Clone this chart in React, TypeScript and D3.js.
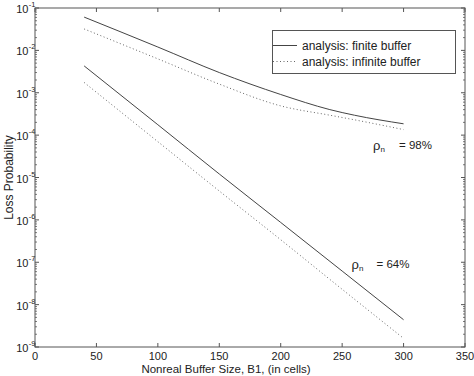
import React from "react";
import * as d3 from "d3";

const bufferFinite98 = [40, 100, 150, 200, 240, 260, 300];
const lossFinite98 = [6.1e-2, 1.2e-2, 3.0e-3, 9.1e-4, 4.0e-4, 2.95e-4, 1.85e-4];
const bufferInfinite98 = [40, 100, 150, 200, 240, 260, 300];
const lossInfinite98 = [3.2e-2, 6.3e-3, 1.6e-3, 4.9e-4, 2.95e-4, 2.3e-4, 1.35e-4];
const bufferFinite64 = [40, 100, 150, 200, 250, 300];
const lossFinite64 = [4.3e-3, 1.76e-4, 1.21e-5, 8.7e-7, 6.2e-8, 4.4e-9];
const bufferInfinite64 = [40, 100, 150, 200, 250, 300];
const lossInfinite64 = [1.75e-3, 7.0e-5, 4.8e-6, 3.4e-7, 2.3e-8, 1.6e-9];

const xTicks = [0, 50, 100, 150, 200, 250, 300, 350];
const yExponents = [-1, -2, -3, -4, -5, -6, -7, -8, -9];
const legendLabels = ["analysis: finite buffer", "analysis: infinite buffer"];
const xLabel = "Nonreal Buffer Size, B1, (in cells)";
const yLabel = "Loss Probability";

const W = 474;
const H = 376;
const L = 35, R = 465, T = 8, B = 347;
const FONT = "'Liberation Sans', Arial, Helvetica, sans-serif";
const AXIS = "#555";
const TXT = "#222";

export default function App() {
  const x = d3.scaleLinear().domain([0, 350]).range([L, R]);
  const y = d3.scaleLog().domain([1e-9, 1e-1]).range([B, T]);
  const line = d3
    .line<[number, number]>()
    .x((d) => x(d[0]))
    .y((d) => y(d[1]))
    .curve(d3.curveMonotoneX);
  const zip = (a: number[], b: number[]) => a.map((v, i) => [v, b[i]] as [number, number]);

  const minor: number[] = [];
  for (let e = -9; e < -1; e++) {
    for (let m = 2; m <= 9; m++) minor.push(m * Math.pow(10, e));
  }

  const series = [
    { d: zip(bufferFinite98, lossFinite98), dash: null },
    { d: zip(bufferInfinite98, lossInfinite98), dash: "1,2.5" },
    { d: zip(bufferFinite64, lossFinite64), dash: null },
    { d: zip(bufferInfinite64, lossInfinite64), dash: "1,2.5" },
  ];

  return (
    <svg
      width={W}
      height={H}
      style={{ position: "absolute", left: 0, top: 0, background: "#fff" }}
      fontFamily={FONT}
    >
      <rect x={0} y={0} width={W} height={H} fill="#fff" />
      {xTicks.map((t) => (
        <g key={"xt" + t}>
          <line x1={x(t)} x2={x(t)} y1={B} y2={B - 4} stroke={AXIS} strokeWidth={1} />
          <line x1={x(t)} x2={x(t)} y1={T} y2={T + 4} stroke={AXIS} strokeWidth={1} />
          <text x={x(t)} y={359.5} fontSize={11} textAnchor="middle" fill={TXT}>
            {t}
          </text>
        </g>
      ))}
      {yExponents.map((e) => {
        const yy = y(Math.pow(10, e));
        return (
          <g key={"yt" + e}>
            <line x1={L} x2={L + 4} y1={yy} y2={yy} stroke={AXIS} strokeWidth={1} />
            <line x1={R} x2={R - 4} y1={yy} y2={yy} stroke={AXIS} strokeWidth={1} />
            <text x={28.5} y={yy + 5} fontSize={11} textAnchor="end" fill={TXT}>
              10
            </text>
            <text x={28.8} y={yy - 1} fontSize={7.5} textAnchor="start" fill={TXT}>
              {"-" + Math.abs(e)}
            </text>
          </g>
        );
      })}
      {minor.map((v, i) => (
        <g key={"mn" + i}>
          <line x1={L} x2={L + 2} y1={y(v)} y2={y(v)} stroke={AXIS} strokeWidth={0.8} />
          <line x1={R} x2={R - 2} y1={y(v)} y2={y(v)} stroke={AXIS} strokeWidth={0.8} />
        </g>
      ))}
      <rect x={L} y={T} width={R - L} height={B - T} fill="none" stroke={AXIS} strokeWidth={1} />
      {series.map((s, i) => (
        <path
          key={"s" + i}
          d={line(s.d) || ""}
          fill="none"
          stroke={s.dash ? "#666" : "#444"}
          strokeWidth={1}
          strokeDasharray={s.dash || undefined}
        />
      ))}
      <rect x={272.5} y={30.5} width={183} height={43} fill="#fff" stroke={AXIS} strokeWidth={1} />
      <line x1={273} x2={297} y1={45.5} y2={45.5} stroke="#444" strokeWidth={1} />
      <line x1={273} x2={297} y1={61.5} y2={61.5} stroke="#666" strokeWidth={1} strokeDasharray="1,2.5" />
      <text x={302} y={50} fontSize={12} fill={TXT}>
        {legendLabels[0]}
      </text>
      <text x={302} y={66} fontSize={12} fill={TXT}>
        {legendLabels[1]}
      </text>
      <text x={373} y={150} fontSize={13} fill={TXT}>
        ρ
      </text>
      <text x={380.5} y={152} fontSize={8} fill={TXT}>
        n
      </text>
      <text x={399} y={149} fontSize={11.5} fill={TXT}>
        = 98%
      </text>
      <text x={351.5} y={269} fontSize={13} fill={TXT}>
        ρ
      </text>
      <text x={359} y={271} fontSize={8} fill={TXT}>
        n
      </text>
      <text x={376.5} y={268} fontSize={11.5} fill={TXT}>
        = 64%
      </text>
      <text x={226} y={372.5} fontSize={11.5} textAnchor="middle" fill={TXT}>
        {xLabel}
      </text>
      <text
        transform={`translate(13, ${(T + B) / 2}) rotate(-90)`}
        fontSize={12}
        textAnchor="middle"
        fill={TXT}
      >
        {yLabel}
      </text>
    </svg>
  );
}
